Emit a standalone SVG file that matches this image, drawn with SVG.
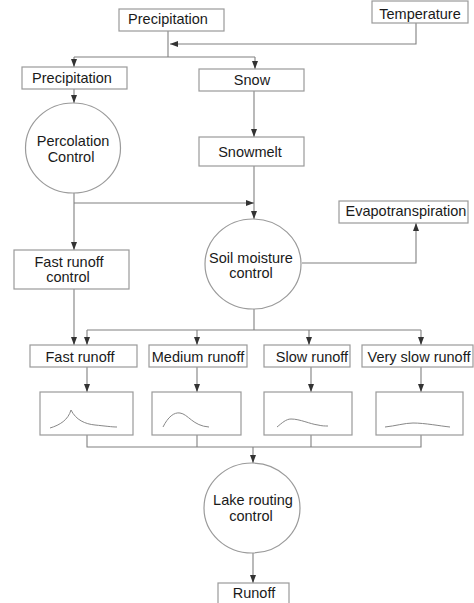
<svg xmlns="http://www.w3.org/2000/svg" width="474" height="603" viewBox="0 0 474 603">
<style>
.box{fill:#fff;stroke:#9a9a9a;stroke-width:1.2}
.t{font-family:"Liberation Sans",Arial,sans-serif;font-size:14.5px;fill:#1a1a1a;text-anchor:middle}
.c{fill:none;stroke:#808080;stroke-width:1.1}
.h{fill:none;stroke:#888;stroke-width:1}
</style>
<defs>
<marker id="a" markerUnits="userSpaceOnUse" markerWidth="8" markerHeight="8" viewBox="0 0 8 8" refX="8" refY="4" orient="auto">
<path d="M0,1 L8,4 L0,7 Z" fill="#333"/>
</marker>
</defs>
<rect width="474" height="603" fill="#fff"/>
<g id="connectors">
<path class="c" d="M168,31 V57"/>
<path class="c" d="M416,23 V44 H170" marker-end="url(#a)"/>
<path class="c" d="M74,57 H255"/>
<path class="c" d="M74,57 V67" marker-end="url(#a)"/>
<path class="c" d="M255,57 V69" marker-end="url(#a)"/>
<path class="c" d="M74,89 V103" marker-end="url(#a)"/>
<path class="c" d="M254,91 V137" marker-end="url(#a)"/>
<path class="c" d="M254,166 V219" marker-end="url(#a)"/>
<path class="c" d="M74,193 V250" marker-end="url(#a)"/>
<path class="c" d="M74,203 H254" marker-end="url(#a)"/>
<path class="c" d="M302,263 H416 V223" marker-end="url(#a)"/>
<path class="c" d="M74,289 V345" marker-end="url(#a)"/>
<path class="c" d="M254,309 V330"/>
<path class="c" d="M87,330 H421"/>
<path class="c" d="M87,330 V345" marker-end="url(#a)"/>
<path class="c" d="M197,330 V345" marker-end="url(#a)"/>
<path class="c" d="M309,330 V345" marker-end="url(#a)"/>
<path class="c" d="M421,330 V345" marker-end="url(#a)"/>
<path class="c" d="M87,367 V392" marker-end="url(#a)"/>
<path class="c" d="M197,367 V392" marker-end="url(#a)"/>
<path class="c" d="M311,367 V392" marker-end="url(#a)"/>
<path class="c" d="M421,367 V392" marker-end="url(#a)"/>
<path class="c" d="M87,435 V447 H421 V435"/>
<path class="c" d="M197,435 V447"/>
<path class="c" d="M311,435 V447"/>
<path class="c" d="M253,447 V463" marker-end="url(#a)"/>
<path class="c" d="M253,553 V583" marker-end="url(#a)"/>
</g>
<g id="precip-top"><rect class="box" x="119" y="9" width="105" height="22"/><text class="t" x="168" y="24">Precipitation</text></g>
<g id="temperature"><rect class="box" x="372" y="1" width="96" height="22"/><text class="t" x="420" y="18.5">Temperature</text></g>
<g id="precip-left"><rect class="box" x="22" y="67" width="105" height="22"/><text class="t" x="72" y="82.5">Precipitation</text></g>
<g id="snow"><rect class="box" x="199" y="69" width="105" height="22"/><text class="t" x="252" y="85">Snow</text></g>
<g id="percolation"><ellipse class="box" cx="73" cy="148" rx="47.5" ry="45"/><text class="t" x="73" y="146">Percolation</text><text class="t" x="71" y="162">Control</text></g>
<g id="snowmelt"><rect class="box" x="199" y="137" width="105" height="29"/><text class="t" x="250" y="157">Snowmelt</text></g>
<g id="evapotranspiration"><rect class="box" x="339" y="201" width="129" height="22"/><text class="t" x="406" y="216">Evapotranspiration</text></g>
<g id="fast-runoff-control"><rect class="box" x="14" y="250" width="115" height="39"/><text class="t" x="69" y="267">Fast runoff</text><text class="t" x="68" y="282">control</text></g>
<g id="soil-moisture"><ellipse class="box" cx="253" cy="264" rx="48" ry="45"/><text class="t" x="251" y="263">Soil moisture</text><text class="t" x="251" y="278">control</text></g>
<g id="fast-runoff"><rect class="box" x="30" y="345" width="107" height="22"/><text class="t" x="80" y="362">Fast runoff</text></g>
<g id="medium-runoff"><rect class="box" x="149" y="345" width="98" height="22"/><text class="t" x="198" y="362">Medium runoff</text></g>
<g id="slow-runoff"><rect class="box" x="264" y="345" width="86" height="22"/><text class="t" x="312" y="362">Slow runoff</text></g>
<g id="very-slow-runoff"><rect class="box" x="362" y="345" width="111" height="22"/><text class="t" x="419" y="362">Very slow runoff</text></g>
<g id="hydro-fast"><rect class="box" x="40" y="392" width="93" height="43"/><path class="h" d="M50,428 C60,425 68,420 71,410 C76,420 85,424 95,425 C105,426 112,427 117,427"/></g>
<g id="hydro-medium"><rect class="box" x="152" y="392" width="89" height="43"/><path class="h" d="M163,427 C168,417 174,412 180,413 C188,414 193,426 209,427"/></g>
<g id="hydro-slow"><rect class="box" x="264" y="392" width="88" height="43"/><path class="h" d="M277,427 C282,423 286,419 291,419 C300,419 310,424 318,425 C322,426 325,426 328,426"/></g>
<g id="hydro-very-slow"><rect class="box" x="376" y="392" width="87" height="43"/><path class="h" d="M385,427 C395,426 405,423 413,423 C425,423 440,426 450,427"/></g>
<g id="lake-routing"><ellipse class="box" cx="252" cy="508" rx="48" ry="45"/><text class="t" x="253" y="505">Lake routing</text><text class="t" x="251" y="520.5">control</text></g>
<g id="runoff"><rect class="box" x="218" y="583" width="71" height="24"/><text class="t" x="254" y="598">Runoff</text></g>
</svg>
